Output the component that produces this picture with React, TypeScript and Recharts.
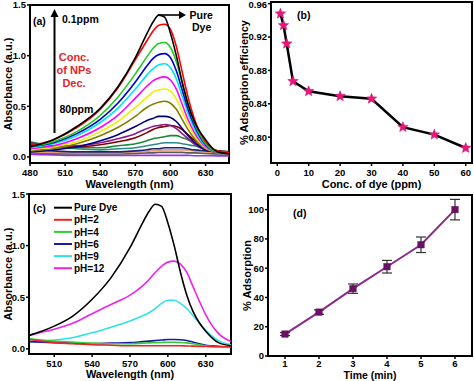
import React from 'react';
import { LineChart, Line, XAxis, YAxis, ReferenceArea, ErrorBar } from 'recharts';

const FONT = '"Liberation Sans", Arial, sans-serif';

// ---------- Panel (a): absorbance vs wavelength, NP concentration ----------
const wavelengthsA = [480, 500, 520, 540, 555, 570, 580, 585, 590, 595, 600, 605, 610, 615, 620, 630, 640, 650];
const pureDyeA = [0.10, 0.17, 0.30, 0.48, 0.69, 0.98, 1.22, 1.33, 1.40, 1.38, 1.22, 1.00, 0.74, 0.52, 0.36, 0.17, 0.05, 0.03];
const redA = [0.11, 0.17, 0.29, 0.47, 0.68, 0.96, 1.15, 1.24, 1.30, 1.31, 1.26, 1.09, 0.84, 0.59, 0.39, 0.15, 0.06, 0.04];
const greenA = [0.10, 0.15, 0.25, 0.41, 0.59, 0.82, 0.99, 1.07, 1.12, 1.13, 1.08, 0.94, 0.73, 0.52, 0.35, 0.13, 0.05, 0.04];
const blueA = [0.10, 0.14, 0.23, 0.37, 0.53, 0.74, 0.90, 0.97, 1.01, 1.02, 0.98, 0.85, 0.66, 0.47, 0.32, 0.12, 0.05, 0.04];
const cyanA = [0.09, 0.13, 0.21, 0.34, 0.48, 0.67, 0.81, 0.87, 0.91, 0.92, 0.88, 0.77, 0.60, 0.43, 0.29, 0.11, 0.05, 0.04];
const magentaA = [0.08, 0.11, 0.18, 0.29, 0.41, 0.58, 0.70, 0.75, 0.78, 0.79, 0.76, 0.67, 0.52, 0.37, 0.25, 0.10, 0.05, 0.04];
const yellowA = [0.07, 0.10, 0.15, 0.25, 0.35, 0.49, 0.59, 0.64, 0.66, 0.67, 0.65, 0.57, 0.45, 0.32, 0.22, 0.09, 0.05, 0.04];
const oliveA = [0.06, 0.08, 0.13, 0.21, 0.29, 0.40, 0.49, 0.52, 0.54, 0.55, 0.53, 0.47, 0.37, 0.27, 0.19, 0.08, 0.05, 0.04];
const navyA = [0.05, 0.07, 0.10, 0.16, 0.22, 0.30, 0.36, 0.38, 0.40, 0.40, 0.39, 0.35, 0.28, 0.21, 0.15, 0.07, 0.05, 0.04];
const purpleA = [0.14, 0.11, 0.11, 0.14, 0.18, 0.23, 0.28, 0.30, 0.31, 0.32, 0.31, 0.28, 0.23, 0.18, 0.13, 0.07, 0.05, 0.04];
const maroonA = [0.12, 0.10, 0.10, 0.12, 0.15, 0.19, 0.24, 0.27, 0.29, 0.30, 0.31, 0.30, 0.27, 0.22, 0.17, 0.09, 0.06, 0.05];
const darkGreenA = [0.15, 0.11, 0.09, 0.09, 0.11, 0.13, 0.16, 0.18, 0.19, 0.20, 0.21, 0.21, 0.19, 0.17, 0.14, 0.09, 0.06, 0.05];
const tealA = [0.13, 0.10, 0.08, 0.07, 0.08, 0.09, 0.11, 0.12, 0.13, 0.14, 0.14, 0.14, 0.13, 0.12, 0.11, 0.08, 0.06, 0.05];
const darkBlueA = [0.08, 0.06, 0.05, 0.05, 0.05, 0.06, 0.07, 0.08, 0.08, 0.09, 0.09, 0.09, 0.09, 0.08, 0.07, 0.06, 0.05, 0.05];
const orangeA = [0.05, 0.045, 0.04, 0.04, 0.04, 0.05, 0.055, 0.06, 0.065, 0.07, 0.07, 0.07, 0.07, 0.065, 0.06, 0.05, 0.045, 0.04];
const grayA = [0.04, 0.035, 0.03, 0.03, 0.03, 0.035, 0.04, 0.04, 0.045, 0.045, 0.045, 0.045, 0.045, 0.04, 0.04, 0.035, 0.03, 0.03];
const violetA = [0.025, 0.02, 0.015, 0.015, 0.015, 0.015, 0.015, 0.015, 0.015, 0.015, 0.015, 0.015, 0.015, 0.015, 0.012, 0.012, 0.01, 0.01];
const ticksAx = [480, 510, 540, 570, 600, 630];
const ticksAy = [0, 0.5, 1.0, 1.5];

const seriesA = [
  { key: 'violet', color: '#9a30e8', values: violetA },
  { key: 'gray', color: '#5a5a5a', values: grayA },
  { key: 'orange', color: '#e0a070', values: orangeA },
  { key: 'darkBlue', color: '#20207a', values: darkBlueA },
  { key: 'teal', color: '#2a8c8c', values: tealA },
  { key: 'darkGreen', color: '#1a8a3a', values: darkGreenA },
  { key: 'maroon', color: '#800000', values: maroonA },
  { key: 'purple', color: '#8b1a8b', values: purpleA },
  { key: 'navy', color: '#000080', values: navyA },
  { key: 'olive', color: '#808000', values: oliveA },
  { key: 'yellow', color: '#f0f000', values: yellowA },
  { key: 'magenta', color: '#ff00ff', values: magentaA },
  { key: 'cyan', color: '#00e5ee', values: cyanA },
  { key: 'blue', color: '#0000cc', values: blueA },
  { key: 'green', color: '#22cc22', values: greenA },
  { key: 'red', color: '#ff0000', values: redA },
  { key: 'pure', color: '#000000', values: pureDyeA },
];

// ---------- Panel (b): adsorption efficiency vs dye concentration ----------
const concB = [1, 2, 3, 5, 10, 20, 30, 40, 50, 60];
const effB = [0.948, 0.934, 0.912, 0.867, 0.855, 0.849, 0.846, 0.812, 0.803, 0.787];
const ticksBx = [0, 10, 20, 30, 40, 50, 60];
const ticksBy = [0.8, 0.84, 0.88, 0.92, 0.96];

// ---------- Panel (c): absorbance vs wavelength, pH ----------
const wavelengthsC = [490, 500, 510, 525, 540, 555, 570, 580, 585, 590, 595, 600, 605, 610, 615, 620, 625, 630, 640, 650];
const pureDyeC = [0.13, 0.17, 0.22, 0.32, 0.48, 0.69, 0.98, 1.22, 1.33, 1.40, 1.38, 1.22, 1.00, 0.74, 0.52, 0.36, 0.25, 0.17, 0.06, 0.03];
const pH2C = [0.09, 0.075, 0.06, 0.05, 0.04, 0.035, 0.03, 0.03, 0.03, 0.03, 0.03, 0.03, 0.03, 0.03, 0.028, 0.026, 0.024, 0.022, 0.02, 0.02];
const pH4C = [0.10, 0.085, 0.075, 0.065, 0.055, 0.05, 0.05, 0.055, 0.058, 0.06, 0.062, 0.064, 0.064, 0.062, 0.058, 0.05, 0.04, 0.03, 0.02, 0.02];
const pH6C = [0.07, 0.065, 0.06, 0.055, 0.05, 0.055, 0.06, 0.07, 0.075, 0.08, 0.085, 0.09, 0.09, 0.088, 0.08, 0.065, 0.05, 0.035, 0.025, 0.02];
const pH9C = [0.07, 0.075, 0.085, 0.11, 0.155, 0.21, 0.27, 0.32, 0.35, 0.39, 0.44, 0.47, 0.47, 0.44, 0.39, 0.32, 0.25, 0.18, 0.08, 0.04];
const pH12C = [0.13, 0.16, 0.19, 0.25, 0.34, 0.43, 0.52, 0.61, 0.67, 0.74, 0.80, 0.84, 0.85, 0.82, 0.74, 0.60, 0.46, 0.33, 0.15, 0.07];
const ticksCx = [510, 540, 570, 600, 630];
const ticksCy = [0, 0.5, 1.0, 1.5];

const seriesC = [
  { key: 'pure', name: 'Pure Dye', color: '#000000', values: pureDyeC },
  { key: 'ph2', name: 'pH=2', color: '#e8262a', values: pH2C },
  { key: 'ph4', name: 'pH=4', color: '#33cc33', values: pH4C },
  { key: 'ph6', name: 'pH=6', color: '#1a1aa8', values: pH6C },
  { key: 'ph9', name: 'pH=9', color: '#30e0e8', values: pH9C },
  { key: 'ph12', name: 'pH=12', color: '#ee22ee', values: pH12C },
];

// ---------- Panel (d): % adsorption vs time ----------
const timeD = [1, 2, 3, 4, 5, 6];
const adsD = [15, 30, 46, 61, 76, 100];
const errD = [1, 1.5, 3.2, 4.3, 5.3, 7];
const ticksDx = [1, 2, 3, 4, 5, 6];
const ticksDy = [0, 20, 40, 60, 80, 100];

const dataA = wavelengthsA.map((wl, i) => {
  const row: Record<string, number> = { wl };
  seriesA.forEach((s) => { row[s.key] = s.values[i]; });
  return row;
});
const dataB = concB.map((c, i) => ({ c, e: effB[i] }));
const dataC = wavelengthsC.map((wl, i) => {
  const row: Record<string, number> = { wl };
  seriesC.forEach((s) => { row[s.key] = s.values[i]; });
  return row;
});
const dataD = timeD.map((t, i) => ({ t, a: adsD[i], err: errD[i] }));

const tickStyle = { fill: '#000', fontSize: 9.5, fontWeight: 700, fontFamily: FONT };
const titleStyle = { fill: '#000', fontSize: 11, fontWeight: 700, fontFamily: FONT };
const axisLine = { stroke: '#000', strokeWidth: 2 };
const tickLine = { stroke: '#000', strokeWidth: 1.5 };

const starPath = (cx: number, cy: number, R: number, r: number) => {
  let d = '';
  for (let i = 0; i < 10; i++) {
    const rad = i % 2 === 0 ? R : r;
    const a = -Math.PI / 2 + (i * Math.PI) / 5;
    d += (i === 0 ? 'M' : 'L') + (cx + rad * Math.cos(a)).toFixed(2) + ',' + (cy + rad * Math.sin(a)).toFixed(2);
  }
  return d + 'Z';
};

const StarDot = (p: any) => (
  <path key={`star-${p.index}`} d={starPath(p.cx, p.cy, 5.5, 2.4)} fill="#e8177d" stroke="#c8106a" strokeWidth={0.5} />
);
const SquareDot = (p: any) => (
  <rect key={`sq-${p.index}`} x={p.cx - 3.2} y={p.cy - 3.2} width={6.4} height={6.4} fill="#6c1063" stroke="#5a0a52" strokeWidth={0.5} />
);

const fmt1 = (v: number) => v.toFixed(1);
const fmt2 = (v: number) => v.toFixed(2);

export default function App() {
  return (
    <div style={{ position: 'absolute', left: 0, top: 0, width: 474, height: 381, background: '#fff', fontFamily: FONT }}>
      {/* (a) */}
      <div style={{ position: 'absolute', left: 0, top: 0 }}>
        <LineChart width={237} height={190} data={dataA} margin={{ top: 5, right: 8, left: 0, bottom: 0 }}>
          <XAxis dataKey="wl" type="number" domain={[480, 650]} ticks={ticksAx} allowDataOverflow height={27}
            tick={tickStyle} axisLine={axisLine} tickLine={tickLine} tickSize={3} tickMargin={3}
            label={{ value: 'Wavelength (nm)', position: 'insideBottom', offset: 2, ...titleStyle }} />
          <YAxis type="number" domain={[-0.06, 1.5]} ticks={ticksAy} allowDataOverflow width={30} tickFormatter={fmt1}
            tick={tickStyle} axisLine={axisLine} tickLine={tickLine} tickSize={3} tickMargin={1}
            label={{ value: 'Absorbance (a.u.)', angle: -90, position: 'insideLeft', offset: 8, ...titleStyle, style: { textAnchor: 'middle' } }} />
          {seriesA.map((s) => (
            <Line key={s.key} dataKey={s.key} type="monotone" stroke={s.color} strokeWidth={1.6} dot={false} isAnimationActive={false} />
          ))}
          <ReferenceArea x1={480} x2={650} y1={-0.06} y2={1.5} fill="none" fillOpacity={0} stroke="#000" strokeWidth={2} ifOverflow="visible" />
        </LineChart>
      </div>

      {/* (b) */}
      <div style={{ position: 'absolute', left: 237, top: 0 }}>
        <LineChart width={237} height={190} data={dataB} margin={{ top: 2, right: 2, left: 0, bottom: 0 }}>
          <XAxis dataKey="c" type="number" domain={[-2, 62]} ticks={ticksBx} allowDataOverflow height={27}
            tick={tickStyle} axisLine={axisLine} tickLine={tickLine} tickSize={3} tickMargin={3}
            label={{ value: 'Conc. of dye (ppm)', position: 'insideBottom', offset: 2, ...titleStyle }} />
          <YAxis type="number" domain={[0.769, 0.962]} ticks={ticksBy} allowDataOverflow width={34} tickFormatter={fmt2}
            tick={tickStyle} axisLine={axisLine} tickLine={tickLine} tickSize={3} tickMargin={1}
            label={{ value: '% Adsorption efficiency', angle: -90, position: 'insideLeft', offset: 7, ...titleStyle, style: { textAnchor: 'middle' } }} />
          <Line dataKey="e" type="linear" stroke="#000" strokeWidth={2.5} dot={StarDot} isAnimationActive={false} />
          <ReferenceArea x1={-2} x2={62} y1={0.769} y2={0.962} fill="none" fillOpacity={0} stroke="#000" strokeWidth={2} ifOverflow="visible" />
        </LineChart>
      </div>

      {/* (c) */}
      <div style={{ position: 'absolute', left: 0, top: 190 }}>
        <LineChart width={237} height={191} data={dataC} margin={{ top: 4, right: 6, left: 0, bottom: 0 }}>
          <XAxis dataKey="wl" type="number" domain={[490, 650]} ticks={ticksCx} allowDataOverflow height={27}
            tick={tickStyle} axisLine={axisLine} tickLine={tickLine} tickSize={3} tickMargin={3}
            label={{ value: 'Wavelength (nm)', position: 'insideBottom', offset: 3, ...titleStyle }} />
          <YAxis type="number" domain={[-0.05, 1.5]} ticks={ticksCy} allowDataOverflow width={29} tickFormatter={fmt1}
            tick={tickStyle} axisLine={axisLine} tickLine={tickLine} tickSize={3} tickMargin={1}
            label={{ value: 'Absorbance (a.u.)', angle: -90, position: 'insideLeft', offset: 8, ...titleStyle, style: { textAnchor: 'middle' } }} />
          {seriesC.slice().reverse().map((s) => (
            <Line key={s.key} dataKey={s.key} name={s.name} type="monotone" stroke={s.color} strokeWidth={1.6} dot={false} isAnimationActive={false} />
          ))}
          <ReferenceArea x1={490} x2={650} y1={-0.05} y2={1.5} fill="none" fillOpacity={0} stroke="#000" strokeWidth={2} ifOverflow="visible" />
        </LineChart>
      </div>

      {/* (d) */}
      <div style={{ position: 'absolute', left: 237, top: 190 }}>
        <LineChart width={237} height={191} data={dataD} margin={{ top: 5, right: 2, left: 0, bottom: 0 }}>
          <XAxis dataKey="t" type="number" domain={[0.5, 6.5]} ticks={ticksDx} allowDataOverflow height={25}
            tick={tickStyle} axisLine={axisLine} tickLine={tickLine} tickSize={3} tickMargin={1}
            label={{ value: 'Time (min)', position: 'insideBottom', offset: 2, ...titleStyle, fontSize: 10.5 }} />
          <YAxis type="number" domain={[0, 110]} ticks={ticksDy} allowDataOverflow width={31}
            tick={tickStyle} axisLine={axisLine} tickLine={tickLine} tickSize={3} tickMargin={1}
            label={{ value: '% Adsorption', angle: -90, position: 'insideLeft', offset: 10, ...titleStyle, style: { textAnchor: 'middle' } }} />
          <Line dataKey="a" type="linear" stroke="#8b2a8b" strokeWidth={2} dot={SquareDot} isAnimationActive={false}>
            <ErrorBar dataKey="err" width={5} stroke="#333" strokeWidth={1.2} direction="y" />
          </Line>
          <ReferenceArea x1={0.5} x2={6.5} y1={0} y2={110} fill="none" fillOpacity={0} stroke="#000" strokeWidth={2} ifOverflow="visible" />
        </LineChart>
      </div>

      {/* annotations */}
      <svg width={474} height={381} style={{ position: 'absolute', left: 0, top: 0, pointerEvents: 'none' }}
        fontFamily={FONT} fontWeight={700}>
        <text x={33} y={25} fontSize={10.5} fill="#000">(a)</text>
        <line x1={54.5} y1={133} x2={54.5} y2={15} stroke="#000" strokeWidth={2} />
        <polygon points="50.5,17 54.5,9 58.5,17" fill="#000" />
        <text x={62} y={22.5} fontSize={10.5} fill="#000">0.1ppm</text>
        <text x={74} y={61} fontSize={11} fill="#e3262b" textAnchor="middle">Conc.</text>
        <text x={74} y={74} fontSize={11} fill="#e3262b" textAnchor="middle">of NPs</text>
        <text x={74} y={86.5} fontSize={11} fill="#e3262b" textAnchor="middle">Dec.</text>
        <text x={59.5} y={112.5} fontSize={10.5} fill="#000">80ppm</text>
        <line x1={158} y1={15} x2={181} y2={15} stroke="#000" strokeWidth={1.6} />
        <polygon points="179,11 186,15 179,19" fill="#000" />
        <text x={189.5} y={19} fontSize={10.5} fill="#000">Pure</text>
        <text x={192} y={31} fontSize={10.5} fill="#000">Dye</text>

        <text x={297} y={19} fontSize={10.5} fill="#000">(b)</text>

        <text x={33} y={212} fontSize={10.5} fill="#000">(c)</text>
        {seriesC.map((s, i) => (
          <g key={s.key}>
            <line x1={54} x2={72} y1={207.7 + i * 12.1} y2={207.7 + i * 12.1} stroke={s.color} strokeWidth={2} />
            <text x={74} y={211.3 + i * 12.1} fontSize={10} fill="#000">{s.name}</text>
          </g>
        ))}

        <text x={293} y={217} fontSize={10.5} fill="#000">(d)</text>
      </svg>
    </div>
  );
}
